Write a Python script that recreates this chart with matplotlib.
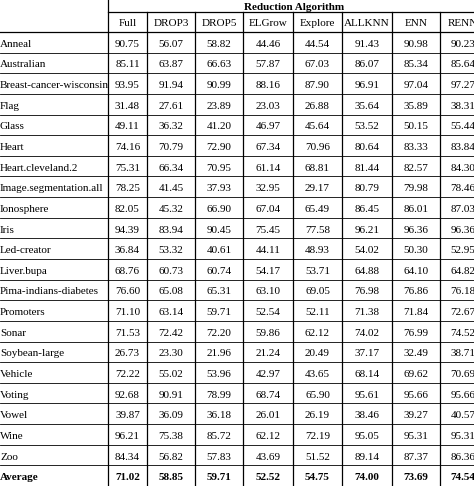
import matplotlib.pyplot as plt

datasets = ["Anneal", "Australian", "Breast-cancer-wisconsin", "Flag", "Glass", "Heart",
            "Heart.cleveland.2", "Image.segmentation.all", "Ionosphere", "Iris", "Led-creator",
            "Liver.bupa", "Pima-indians-diabetes", "Promoters", "Sonar", "Soybean-large",
            "Vehicle", "Voting", "Vowel", "Wine", "Zoo"]
algorithms = ["Full", "DROP3", "DROP5", "ELGrow", "Explore", "ALLKNN", "ENN", "RENN"]
values = [
    [90.75, 56.07, 58.82, 44.46, 44.54, 91.43, 90.98, 90.23],
    [85.11, 63.87, 66.63, 57.87, 67.03, 86.07, 85.34, 85.64],
    [93.95, 91.94, 90.99, 88.16, 87.90, 96.91, 97.04, 97.27],
    [31.48, 27.61, 23.89, 23.03, 26.88, 35.64, 35.89, 38.31],
    [49.11, 36.32, 41.20, 46.97, 45.64, 53.52, 50.15, 55.44],
    [74.16, 70.79, 72.90, 67.34, 70.96, 80.64, 83.33, 83.84],
    [75.31, 66.34, 70.95, 61.14, 68.81, 81.44, 82.57, 84.30],
    [78.25, 41.45, 37.93, 32.95, 29.17, 80.79, 79.98, 78.46],
    [82.05, 45.32, 66.90, 67.04, 65.49, 86.45, 86.01, 87.03],
    [94.39, 83.94, 90.45, 75.45, 77.58, 96.21, 96.36, 96.36],
    [36.84, 53.32, 40.61, 44.11, 48.93, 54.02, 50.30, 52.95],
    [68.76, 60.73, 60.74, 54.17, 53.71, 64.88, 64.10, 64.82],
    [76.60, 65.08, 65.31, 63.10, 69.05, 76.98, 76.86, 76.18],
    [71.10, 63.14, 59.71, 52.54, 52.11, 71.38, 71.84, 72.67],
    [71.53, 72.42, 72.20, 59.86, 62.12, 74.02, 76.99, 74.52],
    [26.73, 23.30, 21.96, 21.24, 20.49, 37.17, 32.49, 38.71],
    [72.22, 55.02, 53.96, 42.97, 43.65, 68.14, 69.62, 70.69],
    [92.68, 90.91, 78.99, 68.74, 65.90, 95.61, 95.66, 95.66],
    [39.87, 36.09, 36.18, 26.01, 26.19, 38.46, 39.27, 40.57],
    [96.21, 75.38, 85.72, 62.12, 72.19, 95.05, 95.31, 95.31],
    [84.34, 56.82, 57.83, 43.69, 51.52, 89.14, 87.37, 86.36],
]
average = [71.02, 58.85, 59.71, 52.52, 54.75, 74.00, 73.69, 74.54]

W, H = 474, 486
plt.rcParams['font.family'] = ['Liberation Serif', 'DejaVu Serif']
fig = plt.figure(figsize=(W / 100, H / 100), dpi=100)
ax = fig.add_axes([0, 0, 1, 1])
ax.set_xlim(0, W)
ax.set_ylim(H, 0)
ax.axis('off')

col_edges = [108, 147, 195, 243, 293, 342, 392, 440, 486]
top_line = 12
head_bottom = 32
row_h = (H - head_bottom) / (len(datasets) + 1)
lw = 0.9
fs = 8

# header
ax.text((col_edges[0] + W) / 2 + 3, 7, "Reduction Algorithm", ha='center', va='center',
        fontsize=fs, fontweight='bold')
ax.plot([col_edges[0], W], [top_line, top_line], color='black', lw=lw)
for i, name in enumerate(algorithms):
    ax.text((col_edges[i] + col_edges[i + 1]) / 2, (top_line + head_bottom) / 2 + 2, name,
            ha='center', va='center', fontsize=fs)
ax.plot([0, W], [head_bottom, head_bottom], color='black', lw=lw)

rows = datasets + ["Average"]
table = values + [average]
for r, (name, vals) in enumerate(zip(rows, table)):
    y0 = head_bottom + r * row_h
    yc = y0 + row_h / 2 + 2
    bold = name == "Average"
    ax.text(0, yc, name, ha='left', va='center', fontsize=fs,
            fontweight='bold' if bold else 'normal')
    for i, v in enumerate(vals):
        ax.text((col_edges[i] + col_edges[i + 1]) / 2, yc, f"{v:.2f}", ha='center',
                va='center', fontsize=fs, fontweight='bold' if bold else 'normal')
    if r < len(rows) - 1:
        ax.plot([0, W], [y0 + row_h, y0 + row_h], color='black', lw=0.6)

for i, x in enumerate(col_edges[:-1]):
    ax.plot([x, x], [0 if i == 0 else top_line, H], color='black', lw=lw)

fig.savefig('out.png', dpi=100)
